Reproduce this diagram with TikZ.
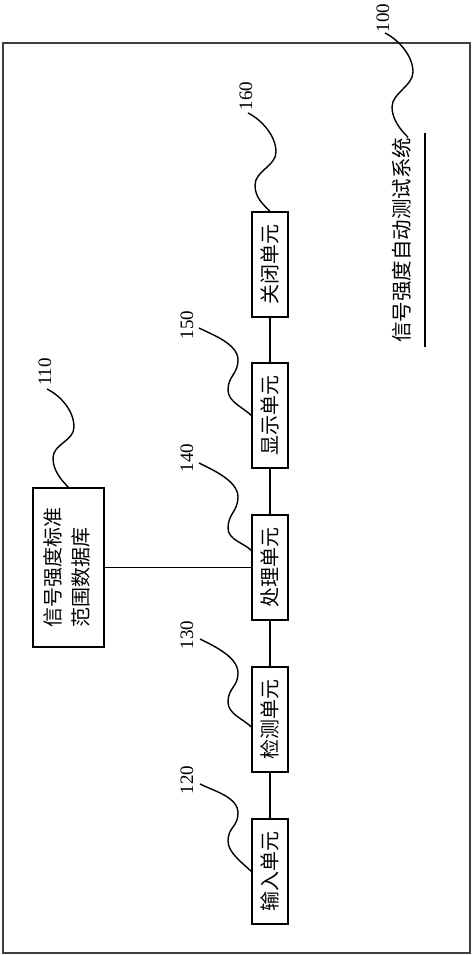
\documentclass[tikz,border=0pt]{standalone}
\usepackage{fontspec}
\usepackage{graphicx}
\setmainfont{Liberation Serif}
\newfontfamily\cjk{Noto Sans CJK SC}
\newcommand\leaderwave[4]{%
  \draw[leader] (#1) .. controls +(14,7) and +(0,-16) .. (#2)
    .. controls +(0,14) and +(0,-14) .. (#3)
    .. controls +(0,12) and +(-8,-8) .. (#4);}
\begin{document}
\begin{tikzpicture}[x=1pt,y=-1pt,
  box/.style={draw, line width=1.3pt, minimum width=36pt, minimum height=105pt,
    inner sep=0pt, font=\cjk\fontsize{20}{24}\selectfont},
  dbbox/.style={draw, line width=1.3pt, minimum width=71pt, minimum height=159pt,
    inner sep=0pt, font=\cjk\fontsize{20}{28}\selectfont},
  num/.style={inner sep=0pt, font=\fontsize{19}{19}\selectfont},
  leader/.style={line width=1.4pt},
  link/.style={line width=1.3pt}]
\useasboundingbox (0,0) rectangle (474,955);
% outer frame
\draw[line width=1.6pt, black!75] (3,43) rectangle (470,953);
% title
\node[inner sep=0pt, font=\cjk\fontsize{20.5}{24}\selectfont] (title) at (402,240) {\rotatebox{90}{信号强度自动测试系统}};
\coordinate (u1) at (425,133);
\coordinate (u2) at (425,347);
\draw[link] (u1) -- (u2);
% units
\node[box] (b160) at (270,264.5) {\rotatebox{90}{关闭单元}};
\node[box] (b150) at (270,415.5) {\rotatebox{90}{显示单元}};
\node[box] (b140) at (270,567.5) {\rotatebox{90}{处理单元}};
\node[box] (b130) at (270,719.5) {\rotatebox{90}{检测单元}};
\node[box] (b120) at (270,871.5) {\rotatebox{90}{输入单元}};
\node[dbbox] (db) at (68.5,567.5) {\rotatebox{90}{\begin{tabular}{@{}l@{}}信号强度标准\\范围数据库\end{tabular}}};
% links
\draw[link] (b160.south) -- (b150.north);
\draw[link] (b150.south) -- (b140.north);
\draw[link] (b140.south) -- (b130.north);
\draw[link] (b130.south) -- (b120.north);
\draw[link] (db.east) -- (b140.west);
% reference numbers
\node[num] (n100) at (383,18) {\rotatebox{90}{100}};
\node[num] (n110) at (45,372) {\rotatebox{90}{110}};
\node[num] (n120) at (187,780) {\rotatebox{90}{120}};
\node[num] (n130) at (187,635) {\rotatebox{90}{130}};
\node[num] (n140) at (187,458) {\rotatebox{90}{140}};
\node[num] (n150) at (187,325) {\rotatebox{90}{150}};
\node[num] (n160) at (246,96) {\rotatebox{90}{160}};
% leader start points
\coordinate (s100) at (385,33);
\coordinate (s110) at (47,389);
\coordinate (s120) at (200,784);
\coordinate (s130) at (200,639);
\coordinate (s140) at (199,463);
\coordinate (s150) at (199,328);
\coordinate (s160) at (248,113);
% leaders
\leaderwave{s100}{413,72}{392,107}{[xshift=6pt]title.north}
\leaderwave{s110}{74,427}{53,458}{db.north}
\leaderwave{s160}{276,152}{255,185}{b160.north}
\leaderwave{s150}{238,360}{228,390}{b150.west}
\leaderwave{s140}{238,497}{228,528}{[yshift=17pt]b140.west}
\leaderwave{s130}{238,673}{228,702}{[yshift=-7.5pt]b130.west}
\leaderwave{s120}{238,813}{228,841}{b120.west}
\end{tikzpicture}
\end{document}
